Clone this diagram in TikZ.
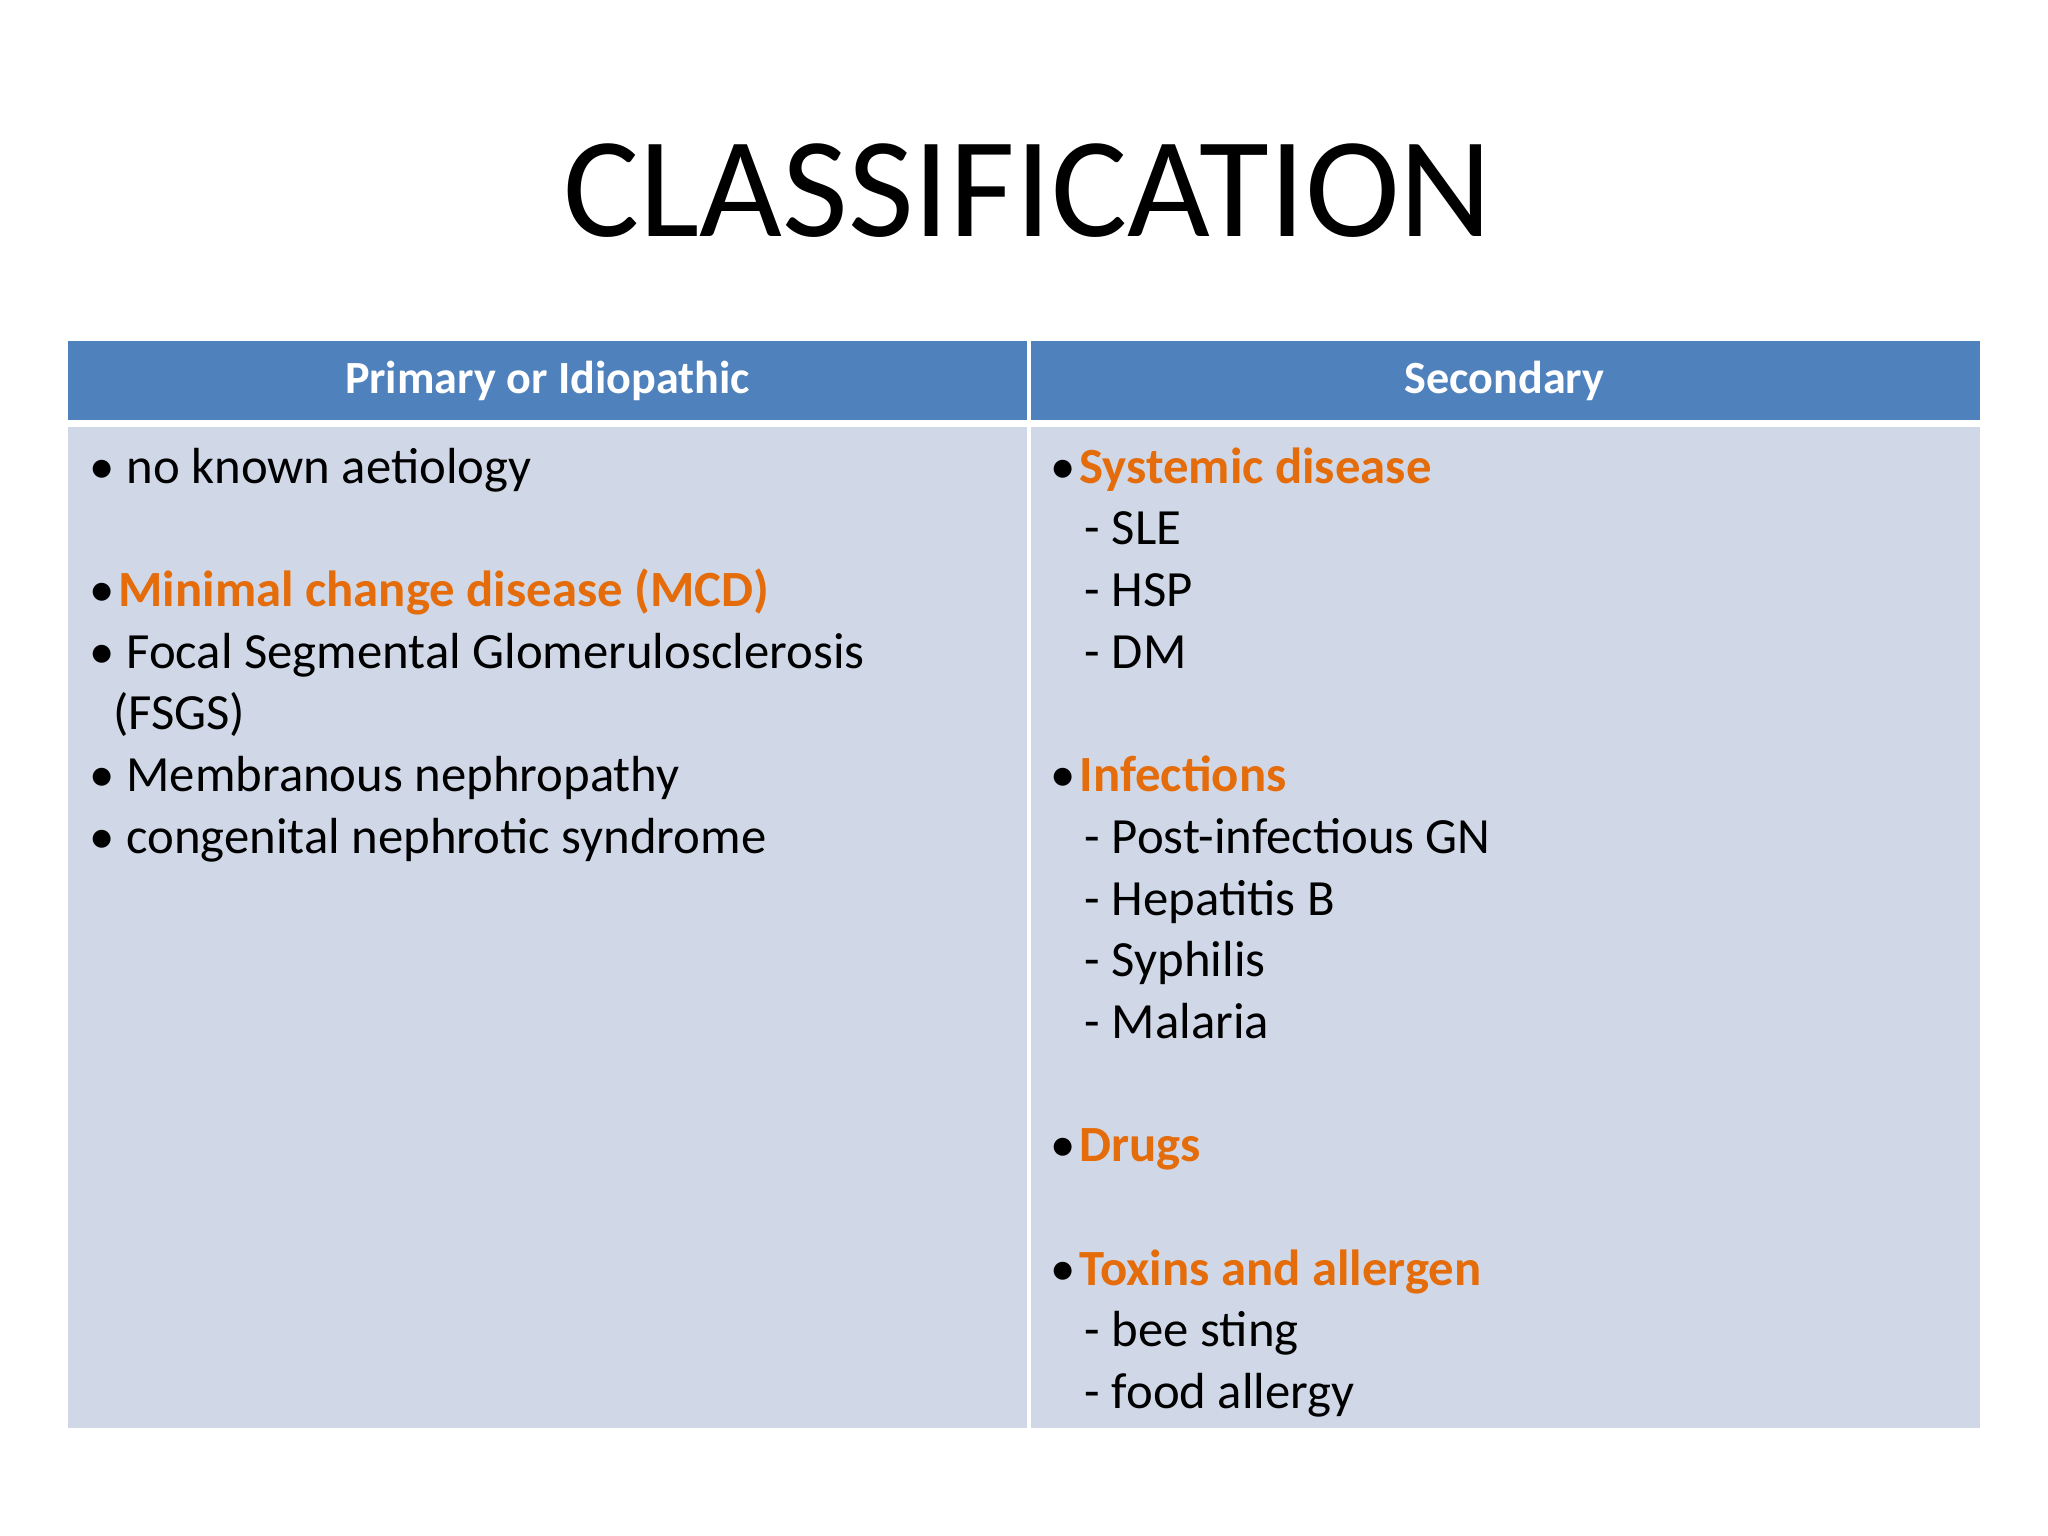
\documentclass[tikz,border=0pt]{standalone}
\usepackage{fontspec}
\setmainfont{Carlito}
\definecolor{hdr}{HTML}{4F81BD}
\definecolor{bodyc}{HTML}{D0D8E8}
\definecolor{org}{HTML}{E46C0A}
\begin{document}
\begin{tikzpicture}[x=0.02cm,y=-0.02cm,
  txt/.style={anchor=base west,inner sep=0pt,font=\fontsize{22}{26}\selectfont},
  otxt/.style={txt,text=org,font=\fontsize{22}{26}\selectfont\bfseries},
  hd/.style={text=white,font=\fontsize{20}{24}\selectfont\bfseries}]
\useasboundingbox (0,0) rectangle (1560,1170);
\fill[white] (0,0) rectangle (1560,1170);
\node[font=\fontsize{62}{70}\selectfont,anchor=base] (title) at (783,180) {CLASSIFICATION};
\fill[hdr] (52,260) rectangle (782,320);
\fill[hdr] (785,260) rectangle (1508,320);
\fill[bodyc] (52,325) rectangle (782,1088);
\fill[bodyc] (785,325) rectangle (1508,1088);
\node[hd] (h1) at (417,290) {Primary or Idiopathic};
\node[hd] (h2) at (1146,290) {Secondary};
% left
\node[txt] (l1) at (68,368) {• no known aetiology};
\node[txt] (l2b) at (68,462) {•};
\node[otxt] (l2) at (90,462) {Minimal change disease (MCD)};
\node[txt] (l3) at (68,509) {• Focal Segmental Glomerulosclerosis};
\node[txt] (l3b) at (86,556) {(FSGS)};
\node[txt] (l4) at (68,603) {• Membranous nephropathy};
\node[txt] (l5) at (68,650) {• congenital nephrotic syndrome};
% right
\node[txt] (r1b) at (800,368) {•};
\node[otxt] (r1) at (822,368) {Systemic disease};
\node[txt] (r2) at (826,415) {- SLE};
\node[txt] (r3) at (826,462) {- HSP};
\node[txt] (r4) at (826,509) {- DM};
\node[txt] (r5b) at (800,603) {•};
\node[otxt] (r5) at (822,603) {Infections};
\node[txt] (r6) at (826,650) {- Post-infectious GN};
\node[txt] (r7) at (826,697) {- Hepatitis B};
\node[txt] (r8) at (826,744) {- Syphilis};
\node[txt] (r9) at (826,791) {- Malaria};
\node[txt] (r10b) at (800,885) {•};
\node[otxt] (r10) at (822,885) {Drugs};
\node[txt] (r11b) at (800,979) {•};
\node[otxt] (r11) at (822,979) {Toxins and allergen};
\node[txt] (r12) at (826,1026) {- bee sting};
\node[txt] (r13) at (826,1073) {- food allergy};
\end{tikzpicture}
\end{document}
